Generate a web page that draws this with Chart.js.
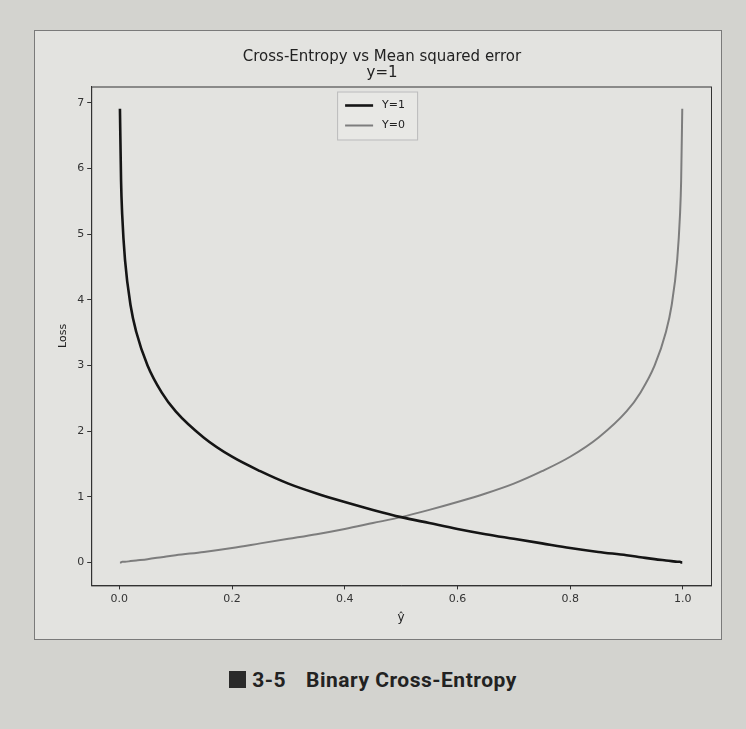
<!DOCTYPE html>
<html>
<head>
<meta charset="utf-8">
<script src="https://cdn.jsdelivr.net/npm/chart.js@4.4.0/dist/chart.umd.min.js"></script>
<style>
  html, body { margin: 0; padding: 0; }
  body { width: 746px; height: 729px; background: #d3d3cf; position: relative; overflow: hidden; font-family: "DejaVu Sans", sans-serif; }
  #frame { position: absolute; left: 34px; top: 30px; width: 686px; height: 608px; border: 1px solid #7a7a7a; background: #e3e3e0; }
  #caption { position: absolute; left: 0; width: 746px; top: 668px; text-align: center; font-family: Roboto, sans-serif; font-weight: bold; font-size: 21px; color: #222; letter-spacing: 0.5px; }
  #caption .box { display: inline-block; width: 17px; height: 17px; background: #2a2a2a; vertical-align: -1px; margin-right: 6px; }
  #caption .num { margin-right: 20px; }
</style>
</head>
<body>
<div id="frame"><canvas id="canvas-1" width="686" height="608"></canvas></div>
<div id="caption"><span class="box"></span><span class="num">3-5</span>Binary Cross-Entropy</div>
<script>
// predicted probability ŷ
const yHat = [0.001, 0.003, 0.005, 0.01, 0.02, 0.03, 0.05, 0.075, 0.1, 0.15, 0.2, 0.25, 0.3, 0.35, 0.4, 0.45, 0.5,
  0.55, 0.6, 0.65, 0.7, 0.75, 0.8, 0.85, 0.9, 0.925, 0.95, 0.97, 0.98, 0.99, 0.995, 0.997, 0.999];
// loss when Y=1
const lossY1 = [6.91, 5.81, 5.30, 4.61, 3.91, 3.51, 3.00, 2.59, 2.30, 1.90, 1.61, 1.39, 1.20, 1.05, 0.92, 0.80, 0.69,
  0.60, 0.51, 0.43, 0.36, 0.29, 0.22, 0.16, 0.11, 0.08, 0.05, 0.03, 0.02, 0.01, 0.01, 0.00, 0.00];
// loss when Y=0
const lossY0 = [0.00, 0.00, 0.01, 0.01, 0.02, 0.03, 0.05, 0.08, 0.11, 0.16, 0.22, 0.29, 0.36, 0.43, 0.51, 0.60, 0.69,
  0.80, 0.92, 1.05, 1.20, 1.39, 1.61, 1.90, 2.30, 2.59, 3.00, 3.51, 3.91, 4.61, 5.30, 5.81, 6.91];
const seriesLabels = ["Y=1", "Y=0"];
const titleLines = ["Cross-Entropy vs Mean squared error", "y=1"];

const toPoints = (ys) => yHat.map((x, i) => ({ x: x, y: ys[i] }));

// matplotlib style: full box around the axes + legend inside the plot
const boxAndLegend = {
  id: "boxAndLegend",
  afterDraw(chart) {
    const { ctx, chartArea: a } = chart;
    ctx.save();
    ctx.strokeStyle = "#333";
    ctx.lineWidth = 1;
    ctx.strokeRect(a.left + 0.5, a.top + 0.5, a.right - a.left, a.bottom - a.top);

    const w = 80, h = 48;
    const lx = (a.left + a.right) / 2 - w / 2 - 24, ly = a.top + 5;
    ctx.fillStyle = "rgba(232,232,229,0.9)";
    ctx.strokeStyle = "#bbb";
    ctx.fillRect(lx, ly, w, h);
    ctx.strokeRect(lx + 0.5, ly + 0.5, w, h);
    ctx.font = "11px 'DejaVu Sans'";
    ctx.textBaseline = "middle";
    chart.data.datasets.forEach((ds, i) => {
      const yy = ly + 14 + i * 20;
      ctx.strokeStyle = ds.borderColor;
      ctx.lineWidth = ds.borderWidth;
      ctx.beginPath();
      ctx.moveTo(lx + 8, yy);
      ctx.lineTo(lx + 36, yy);
      ctx.stroke();
      ctx.fillStyle = "#222";
      ctx.fillText(ds.label, lx + 45, yy);
    });
    ctx.restore();
  }
};

new Chart(document.getElementById("canvas-1"), {
  type: "scatter",
  data: {
    datasets: [
      {
        label: seriesLabels[0],
        data: toPoints(lossY1),
        showLine: true,
        borderColor: "#151515",
        borderWidth: 2.6,
        pointRadius: 0,
        cubicInterpolationMode: "monotone",
      },
      {
        label: seriesLabels[1],
        data: toPoints(lossY0),
        showLine: true,
        borderColor: "#7d7d7d",
        borderWidth: 2,
        pointRadius: 0,
        cubicInterpolationMode: "monotone",
      },
    ],
  },
  options: {
    responsive: false,
    animation: false,
    layout: { padding: { left: 18, right: 10, top: 14, bottom: 10 } },
    plugins: {
      legend: { display: false },
      tooltip: { enabled: false },
      title: {
        display: true,
        text: titleLines,
        color: "#222",
        font: { family: "DejaVu Sans", size: 15, weight: "normal", lineHeight: 1.05 },
        padding: { top: 4, bottom: 6 },
      },
    },
    scales: {
      x: {
        type: "linear",
        min: -0.05,
        max: 1.05,
        grid: { drawOnChartArea: false, drawTicks: true, tickLength: 4, color: "#333" },
        border: { display: true, color: "#333" },
        ticks: {
          stepSize: 0.2,
          includeBounds: false,
          color: "#333",
          font: { family: "DejaVu Sans", size: 11 },
          callback: (v) => v.toFixed(1),
        },
        title: { display: true, text: "ŷ", color: "#222", font: { family: "DejaVu Sans", size: 12 }, padding: { top: 2 } },
      },
      y: {
        min: -0.35,
        max: 7.25,
        grid: { drawOnChartArea: false, drawTicks: true, tickLength: 4, color: "#333" },
        border: { display: true, color: "#333" },
        ticks: {
          stepSize: 1,
          includeBounds: false,
          color: "#333",
          font: { family: "DejaVu Sans", size: 11 },
        },
        title: { display: true, text: "Loss", color: "#222", font: { family: "DejaVu Sans", size: 11 } },
      },
    },
  },
  plugins: [boxAndLegend],
});
</script>
</body>
</html>
